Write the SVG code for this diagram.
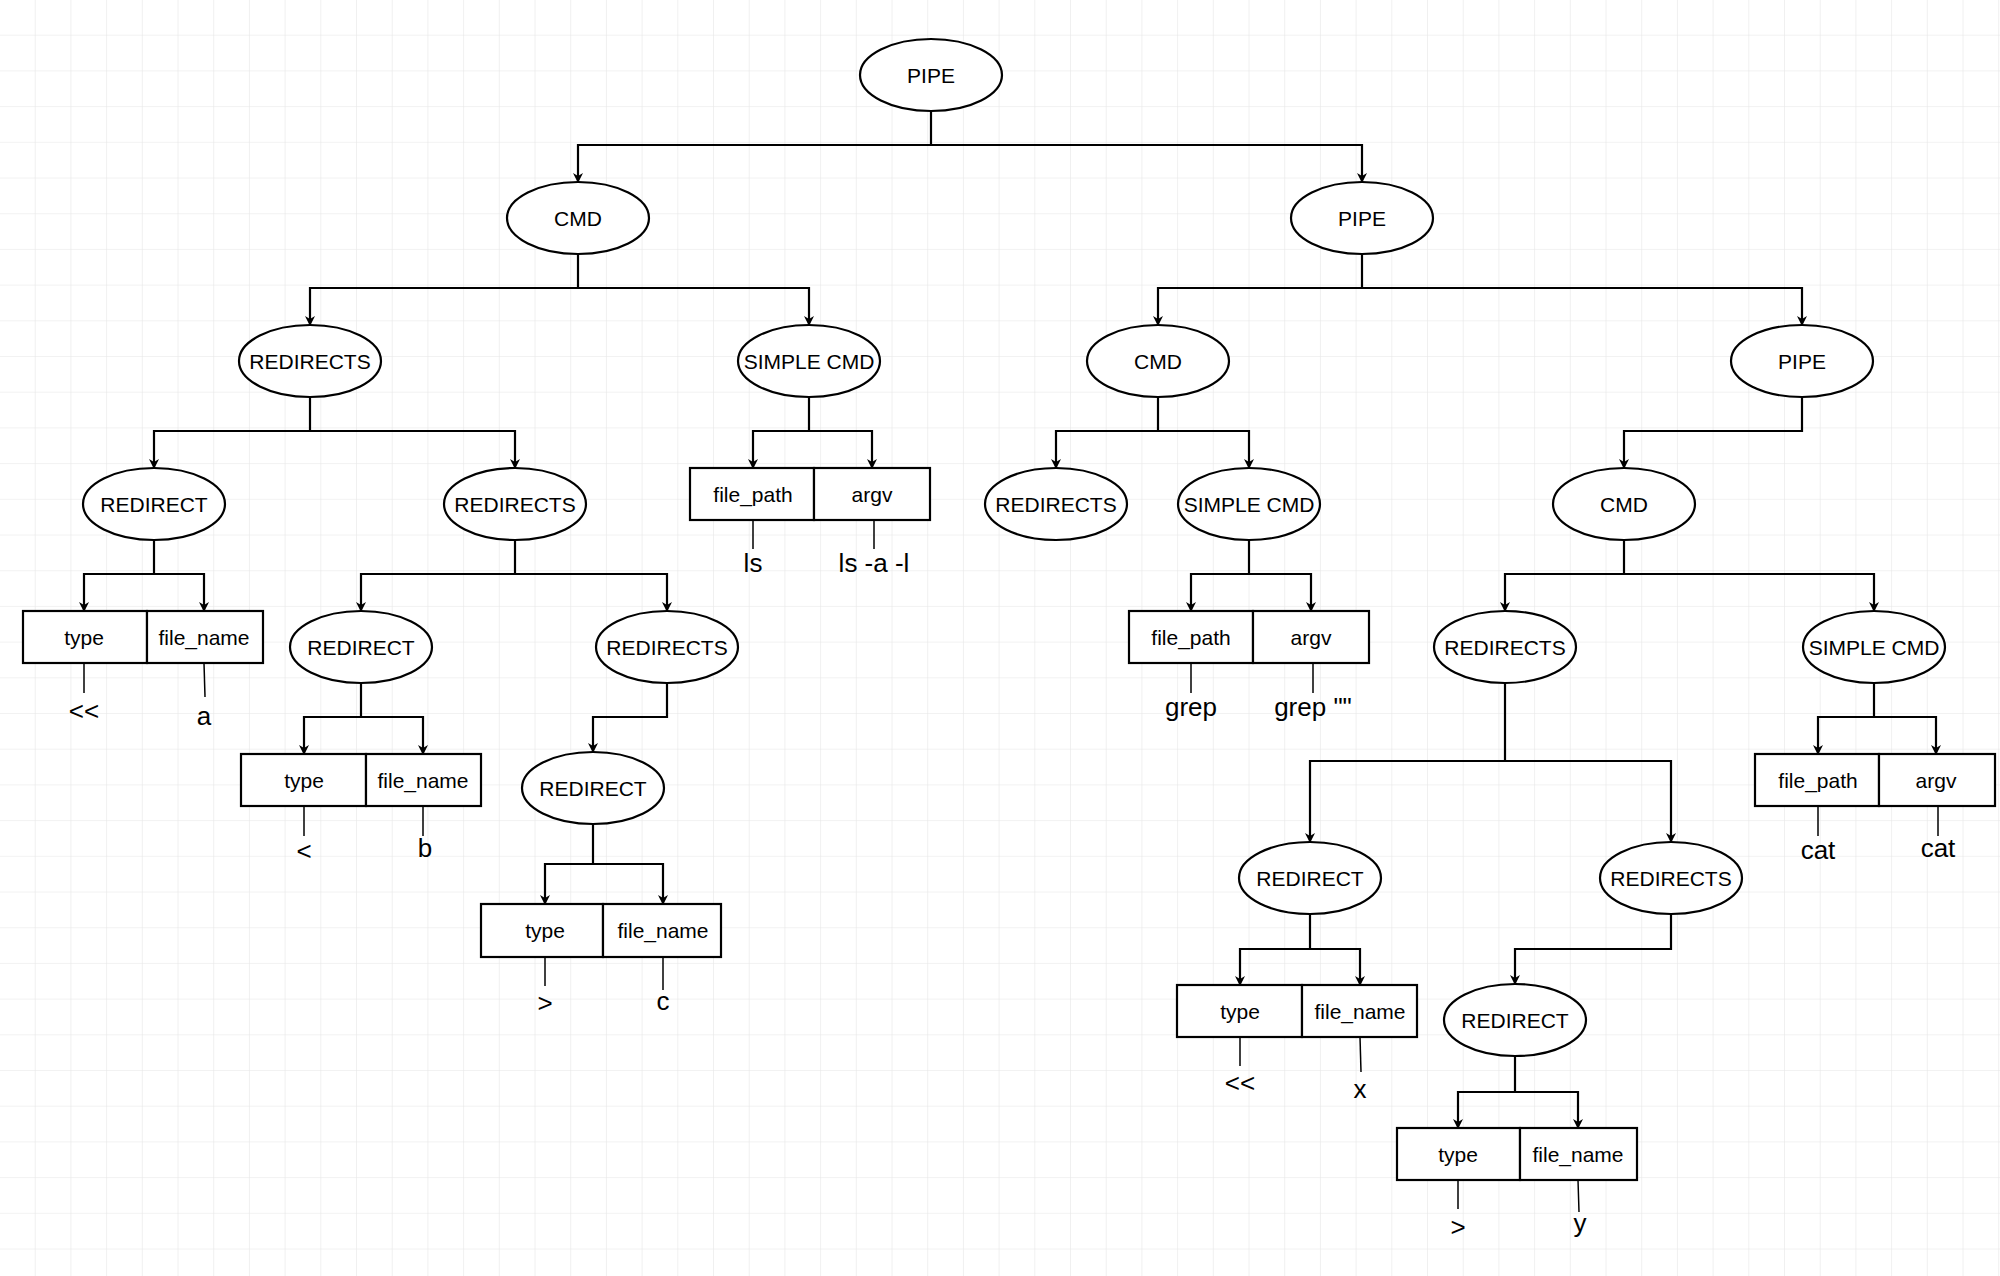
<svg xmlns="http://www.w3.org/2000/svg" width="2000" height="1276" viewBox="0 0 2000 1276">
<defs>
<pattern id="grid" width="35.7" height="35.7" patternUnits="userSpaceOnUse"><path d="M35.7 0V35.7H0" fill="none" stroke="#e6e6e6" stroke-width="1.2"/></pattern>
<marker id="ah" markerWidth="10" markerHeight="10" refX="9" refY="5" orient="auto" markerUnits="userSpaceOnUse"><path d="M0 0L10 5L0 10L3 5Z" fill="#000"/></marker>
<style>
ellipse,rect{fill:#fff;stroke:#000;stroke-width:2.2}
.c path{fill:none;stroke:#000;stroke-width:2.2;marker-end:url(#ah)}
.v line{stroke:#000;stroke-width:1.5}
text{font-family:"Liberation Sans",Arial,sans-serif;text-anchor:middle;dominant-baseline:central}
.n text{font-size:21px}
.val{font-size:26px;dominant-baseline:auto}
</style>
</defs>
<rect width="2000" height="1276" style="fill:url(#grid);stroke:none"/>
<g class="c" id="connectors">
<path d="M931 111V145H578V182"/><path d="M931 145H1362V182"/>
<path d="M578 254V288H310V325"/><path d="M578 288H809V325"/>
<path d="M1362 254V288H1158V325"/><path d="M1362 288H1802V325"/>
<path d="M310 397V431H154V468"/><path d="M310 431H515V468"/>
<path d="M809 397V431H753V468"/><path d="M809 431H872V468"/>
<path d="M1158 397V431H1056V468"/><path d="M1158 431H1249V468"/>
<path d="M1802 397V431H1624V468"/>
<path d="M154 540V574H84V611"/><path d="M154 574H204V611"/>
<path d="M515 540V574H361V611"/><path d="M515 574H667V611"/>
<path d="M1249 540V574H1191V611"/><path d="M1249 574H1311V611"/>
<path d="M1624 540V574H1505V611"/><path d="M1624 574H1874V611"/>
<path d="M361 682V717H304V754"/><path d="M361 717H423V754"/>
<path d="M667 682V717H593V752"/>
<path d="M1505 682V761H1310V842"/><path d="M1505 761H1671V842"/>
<path d="M1874 682V717H1818V754"/><path d="M1874 717H1936V754"/>
<path d="M593 824V864H545V904"/><path d="M593 864H663V904"/>
<path d="M1310 914V949H1240V985"/><path d="M1310 949H1360V985"/>
<path d="M1671 914V949H1515V984"/>
<path d="M1515 1056V1092H1458V1128"/><path d="M1515 1092H1578V1128"/>
</g>
<g class="n">
<g id="pipe1"><ellipse cx="931" cy="75" rx="71" ry="36"/><text x="931" y="75">PIPE</text></g>
<g id="cmd1"><ellipse cx="578" cy="218" rx="71" ry="36"/><text x="578" y="218">CMD</text></g>
<g id="pipe2"><ellipse cx="1362" cy="218" rx="71" ry="36"/><text x="1362" y="218">PIPE</text></g>
<g id="redirects1"><ellipse cx="310" cy="361" rx="71" ry="36"/><text x="310" y="361">REDIRECTS</text></g>
<g id="simple1"><ellipse cx="809" cy="361" rx="71" ry="36"/><text x="809" y="361">SIMPLE CMD</text></g>
<g id="cmd2"><ellipse cx="1158" cy="361" rx="71" ry="36"/><text x="1158" y="361">CMD</text></g>
<g id="pipe3"><ellipse cx="1802" cy="361" rx="71" ry="36"/><text x="1802" y="361">PIPE</text></g>
<g id="redirect1"><ellipse cx="154" cy="504" rx="71" ry="36"/><text x="154" y="504">REDIRECT</text></g>
<g id="redirects2"><ellipse cx="515" cy="504" rx="71" ry="36"/><text x="515" y="504">REDIRECTS</text></g>
<g id="redirects3"><ellipse cx="1056" cy="504" rx="71" ry="36"/><text x="1056" y="504">REDIRECTS</text></g>
<g id="simple2"><ellipse cx="1249" cy="504" rx="71" ry="36"/><text x="1249" y="504">SIMPLE CMD</text></g>
<g id="cmd3"><ellipse cx="1624" cy="504" rx="71" ry="36"/><text x="1624" y="504">CMD</text></g>
<g id="redirect2"><ellipse cx="361" cy="647" rx="71" ry="36"/><text x="361" y="647">REDIRECT</text></g>
<g id="redirects4"><ellipse cx="667" cy="647" rx="71" ry="36"/><text x="667" y="647">REDIRECTS</text></g>
<g id="redirects5"><ellipse cx="1505" cy="647" rx="71" ry="36"/><text x="1505" y="647">REDIRECTS</text></g>
<g id="simple3"><ellipse cx="1874" cy="647" rx="71" ry="36"/><text x="1874" y="647">SIMPLE CMD</text></g>
<g id="redirect3"><ellipse cx="593" cy="788" rx="71" ry="36"/><text x="593" y="788">REDIRECT</text></g>
<g id="redirect4"><ellipse cx="1310" cy="878" rx="71" ry="36"/><text x="1310" y="878">REDIRECT</text></g>
<g id="redirects6"><ellipse cx="1671" cy="878" rx="71" ry="36"/><text x="1671" y="878">REDIRECTS</text></g>
<g id="redirect5"><ellipse cx="1515" cy="1020" rx="71" ry="36"/><text x="1515" y="1020">REDIRECT</text></g>

<g id="t1"><rect x="23" y="611" width="124" height="52"/><rect x="147" y="611" width="116" height="52"/><text x="84" y="637">type</text><text x="204" y="637">file_name</text></g>
<g id="t2"><rect x="241" y="754" width="125" height="52"/><rect x="366" y="754" width="115" height="52"/><text x="304" y="780">type</text><text x="423" y="780">file_name</text></g>
<g id="t3"><rect x="481" y="904" width="122" height="53"/><rect x="603" y="904" width="118" height="53"/><text x="545" y="930">type</text><text x="663" y="930">file_name</text></g>
<g id="t4"><rect x="690" y="468" width="124" height="52"/><rect x="814" y="468" width="116" height="52"/><text x="753" y="494">file_path</text><text x="872" y="494">argv</text></g>
<g id="t5"><rect x="1129" y="611" width="124" height="52"/><rect x="1253" y="611" width="116" height="52"/><text x="1191" y="637">file_path</text><text x="1311" y="637">argv</text></g>
<g id="t6"><rect x="1755" y="754" width="124" height="52"/><rect x="1879" y="754" width="116" height="52"/><text x="1818" y="780">file_path</text><text x="1936" y="780">argv</text></g>
<g id="t7"><rect x="1177" y="985" width="125" height="52"/><rect x="1302" y="985" width="115" height="52"/><text x="1240" y="1011">type</text><text x="1360" y="1011">file_name</text></g>
<g id="t8"><rect x="1397" y="1128" width="123" height="52"/><rect x="1520" y="1128" width="117" height="52"/><text x="1458" y="1154">type</text><text x="1578" y="1154">file_name</text></g>
</g>
<g class="v" id="values">
<line x1="84" y1="663" x2="84" y2="693"/><text class="val" x="84" y="720">&lt;&lt;</text>
<line x1="204" y1="663" x2="205" y2="697"/><text class="val" x="204" y="725">a</text>
<line x1="304" y1="806" x2="304" y2="836"/><text class="val" x="304" y="860">&lt;</text>
<line x1="423" y1="806" x2="423" y2="836"/><text class="val" x="425" y="857">b</text>
<line x1="545" y1="957" x2="545" y2="986"/><text class="val" x="545" y="1012">&gt;</text>
<line x1="663" y1="957" x2="663" y2="990"/><text class="val" x="663" y="1010">c</text>
<line x1="753" y1="520" x2="753" y2="549"/><text class="val" x="753" y="572">ls</text>
<line x1="874" y1="520" x2="874" y2="549"/><text class="val" x="874" y="572">ls -a -l</text>
<line x1="1191" y1="663" x2="1191" y2="693"/><text class="val" x="1191" y="716">grep</text>
<line x1="1313" y1="663" x2="1313" y2="693"/><text class="val" x="1313" y="716">grep ""</text>
<line x1="1818" y1="806" x2="1818" y2="836"/><text class="val" x="1818" y="859">cat</text>
<line x1="1938" y1="806" x2="1938" y2="836"/><text class="val" x="1938" y="857">cat</text>
<line x1="1240" y1="1037" x2="1240" y2="1066"/><text class="val" x="1240" y="1092">&lt;&lt;</text>
<line x1="1360" y1="1037" x2="1361" y2="1072"/><text class="val" x="1360" y="1098">x</text>
<line x1="1458" y1="1180" x2="1458" y2="1209"/><text class="val" x="1458" y="1236">&gt;</text>
<line x1="1578" y1="1180" x2="1579" y2="1212"/><text class="val" x="1580" y="1232">y</text>
</g>
</svg>
